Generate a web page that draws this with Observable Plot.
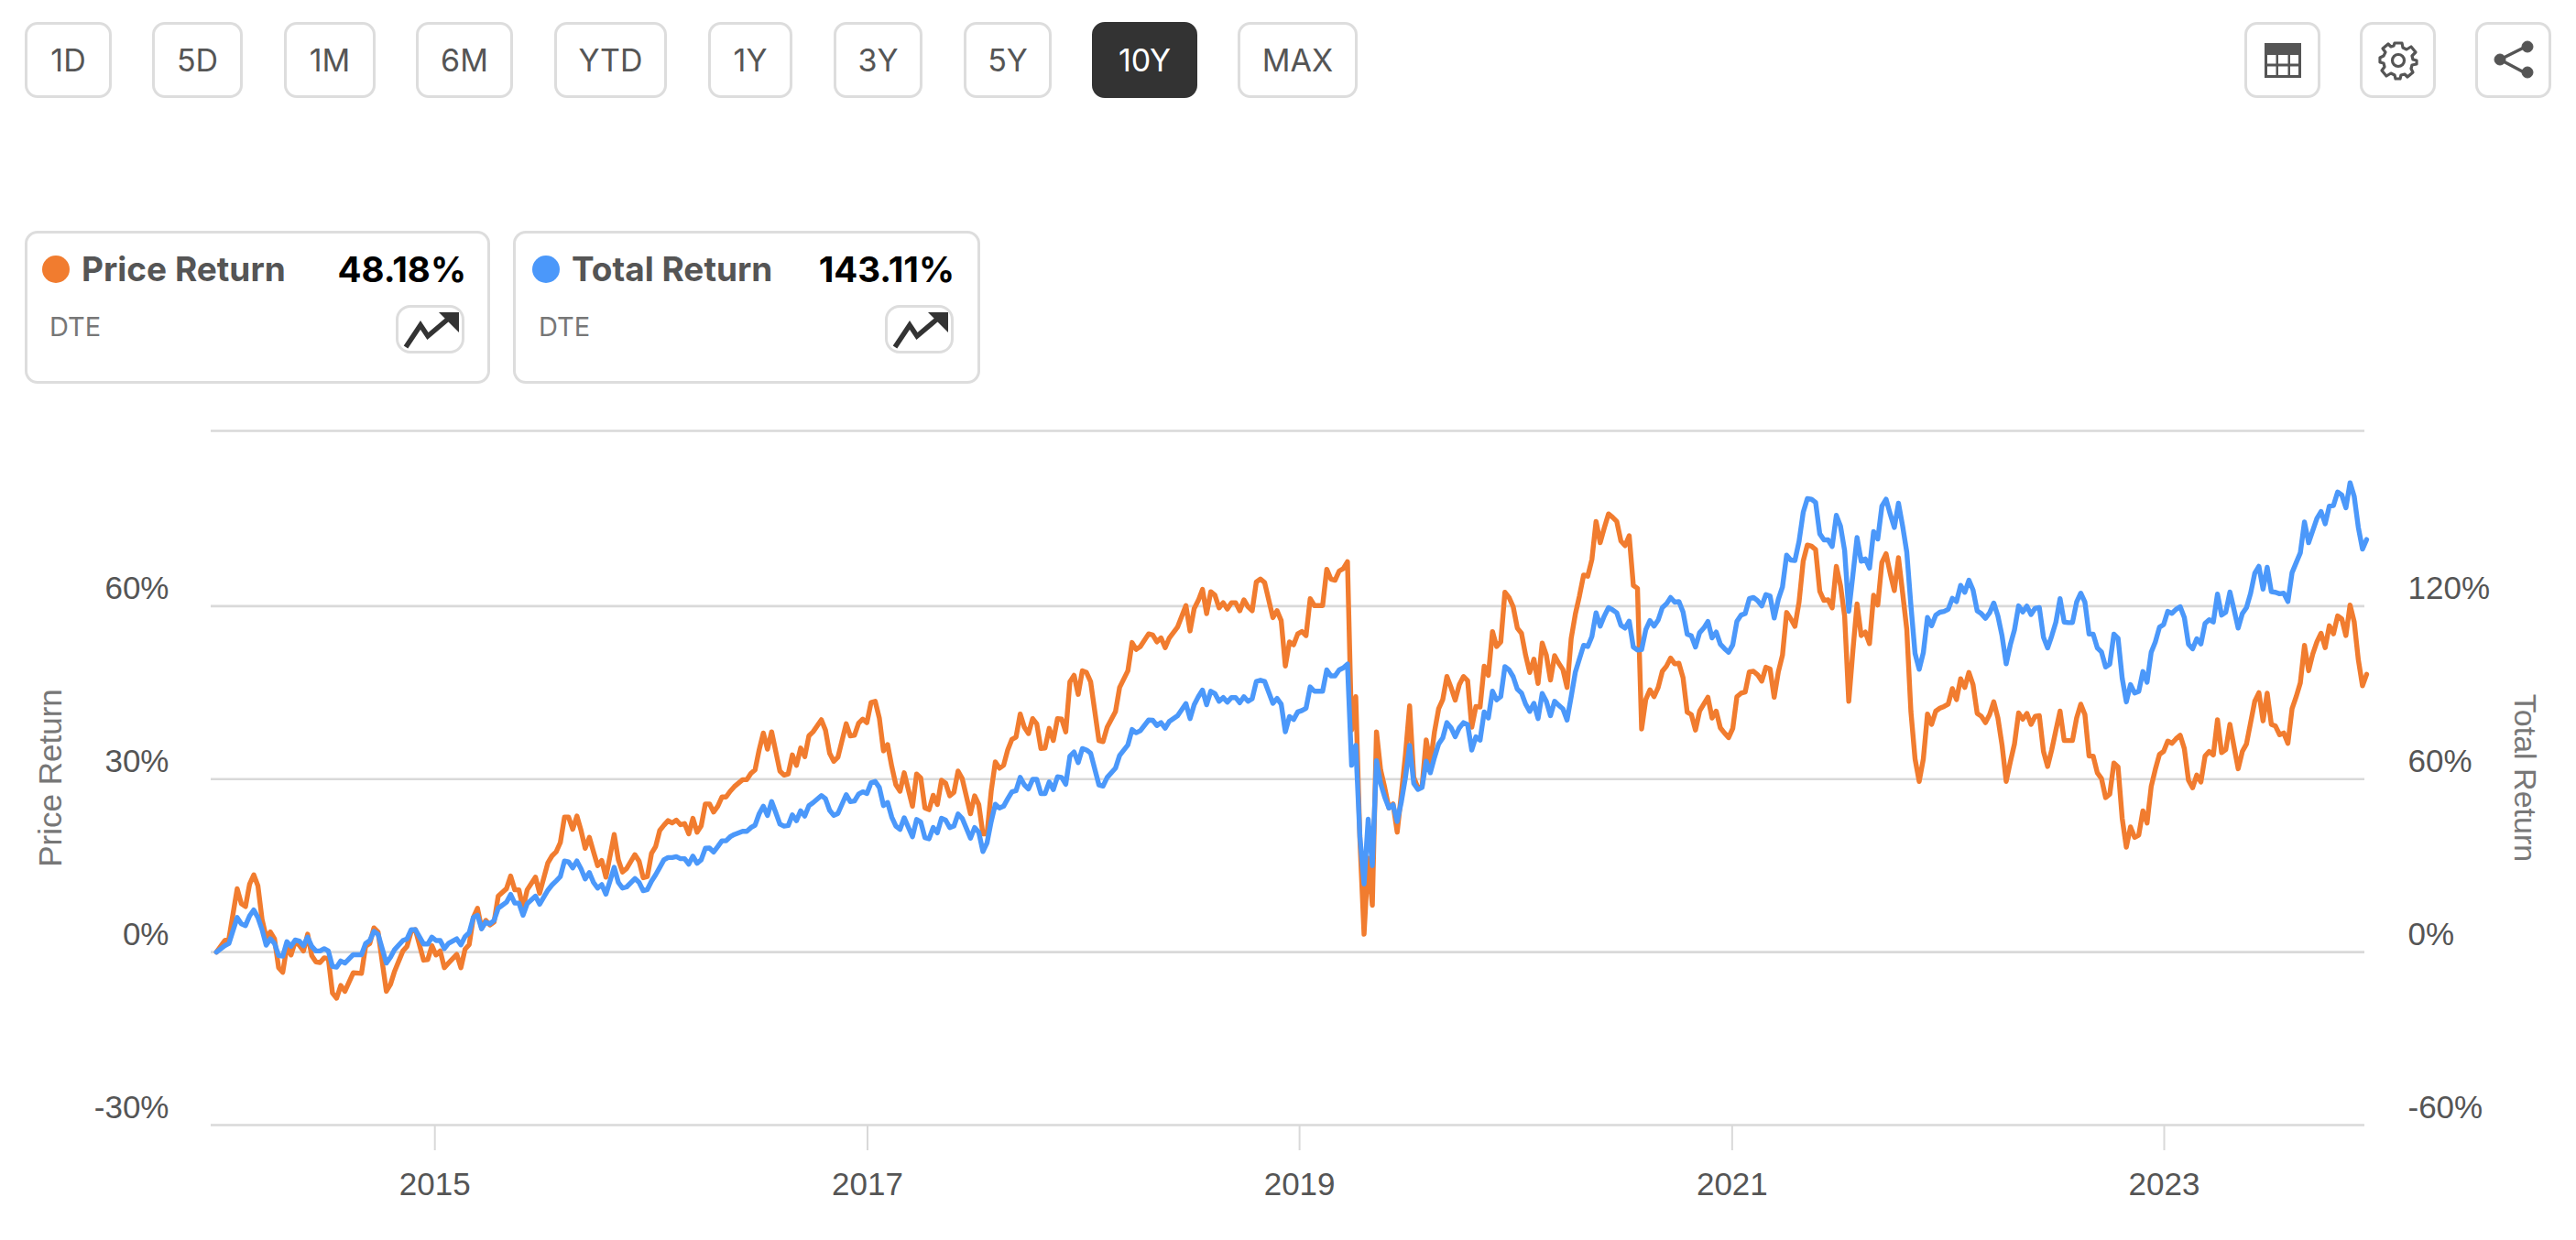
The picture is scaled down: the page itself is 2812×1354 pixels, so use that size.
<!DOCTYPE html>
<html>
<head>
<meta charset="utf-8">
<script src="https://cdn.jsdelivr.net/npm/d3@7"></script>
<script src="https://cdn.jsdelivr.net/npm/@observablehq/plot@0.6"></script>
<style>
html,body{margin:0;padding:0;background:#fff;width:2812px;height:1354px;overflow:hidden;font-family:Inter,sans-serif}
.b{position:absolute;top:24px;height:83px;box-sizing:border-box;border:3px solid #ddd;border-radius:14px;background:#fff;color:#555;font-size:34px;display:flex;align-items:center;justify-content:center}
.b.on{background:#333;border-color:#333;color:#fff}
.card{position:absolute;top:252px;height:167px;width:508px;box-sizing:border-box;border:3px solid #ddd;border-radius:14px}
.a{position:absolute}
.dot{position:absolute;width:30px;height:30px;border-radius:50%;top:279px}
.n{position:absolute;top:272px;height:44px;line-height:44px;font-weight:700;font-size:37px;color:#555;white-space:nowrap}
.v{position:absolute;top:272px;height:44px;line-height:44px;font-weight:700;font-size:38.5px;color:#000;white-space:nowrap}
.t{position:absolute;top:340px;height:34px;line-height:34px;font-size:29px;color:#777}
.m{position:absolute;top:333px;width:75px;height:53px;box-sizing:border-box;border:3px solid #ddd;border-radius:16px}
#chart{position:absolute;left:0;top:440px}
</style>
</head>
<body>
<div id="controls"></div>
<div class="b" style="left:2450px;width:83px"><svg width="40" height="38" viewBox="0 0 40 38"><rect width="40" height="38" fill="#555"/><g fill="#fff"><rect x="3" y="13" width="9.5" height="9.5"/><rect x="15" y="13" width="10.5" height="9.5"/><rect x="28" y="13" width="9" height="9.5"/><rect x="3" y="25.5" width="9.5" height="9.5"/><rect x="15" y="25.5" width="10.5" height="9.5"/><rect x="28" y="25.5" width="9" height="9.5"/></g></svg></div>
<div class="b" style="left:2576px;width:83px"><svg width="44" height="44" viewBox="-22 -22 44 44"><g fill="none" stroke="#555" stroke-width="3.2"><circle r="6.5"/><path id="g" stroke-linejoin="round" d="M-4-19H4L5-14 9-12 14-15 19-9 15-5 16-1 20 0V0 4L15 5 14 9 16 13 10 18 7 15 3 16 2 20H-3L-4 16-8 14-13 17-18 11-15 7-16 3-20 2V-3L-16-5-14-9-17-13-11-18-8-15-5-16Z"/></g></svg></div>
<div class="b" style="left:2702px;width:83px"><svg width="46" height="44" viewBox="0 0 46 44"><g fill="#555" stroke="#555"><path d="M8 21 38 6M8 21 38 37" stroke-width="3.5" fill="none"/><circle cx="8" cy="21" r="6"/><circle cx="38" cy="7" r="6"/><circle cx="38" cy="35" r="6"/></g></svg></div>

<div class="card" style="left:27px"></div>
<div class="card" style="left:560px;width:510px"></div>
<div class="dot" style="left:46px;background:#f17c2f"></div>
<div class="dot" style="left:581px;background:#4b98fa"></div>
<div class="n" style="left:89px">Price Return</div>
<div class="n" style="left:624px">Total Return</div>
<div class="v" style="right:2303px">48.18%</div>
<div class="v" style="right:1770px">143.11%</div>
<div class="t" style="left:54px">DTE</div>
<div class="t" style="left:588px">DTE</div>
<div class="m" style="left:432px"><svg width="69" height="47" viewBox="0 0 69 47"><path d="M8 43 24 19 32 31 58 9" fill="none" stroke="#333" stroke-width="5.5"/><path d="M44 5H66V27Z" fill="#333"/></svg></div>
<div class="m" style="left:966px"><svg width="69" height="47" viewBox="0 0 69 47"><path d="M8 43 24 19 32 31 58 9" fill="none" stroke="#333" stroke-width="5.5"/><path d="M44 5H66V27Z" fill="#333"/></svg></div>
<div id="chart"></div>

<script>
// Range buttons
const rangeLabels = ["1D","5D","1M","6M","YTD","1Y","3Y","5Y","10Y","MAX"];
const rangeActive = "10Y";

// Weeks elapsed since the first observation
const firstDate = "2013-12-28";
const weeks = [
0,2,3,5,6,7,8,9,10,11,
12,13,14,15,16,17,18,19,20,21,
22,23,24,25,26,27,28,29,30,31,
33,35,36,37,38,39,41,42,43,45,
46,47,48,50,51,52,53,54,55,56,
58,59,60,61,62,63,64,65,66,67,
68,70,71,72,73,74,75,77,78,80,
81,82,83,84,85,86,87,88,89,90,
91,92,93,94,96,97,98,99,101,102,
103,104,105,106,107,108,109,110,111,112,
113,114,115,116,117,118,119,120,121,122,
123,124,125,127,128,129,130,131,132,133,
134,135,136,137,138,139,140,141,142,143,
144,146,147,148,149,150,152,153,154,155,
156,157,158,159,160,161,162,163,164,165,
166,168,169,170,171,172,173,174,175,176,
177,178,179,180,182,183,184,185,186,187,
188,189,190,191,192,193,194,195,196,197,
198,199,200,201,202,203,204,205,206,207,
208,209,210,211,213,214,215,217,218,220,
221,222,223,225,226,227,228,229,230,232,
234,235,236,237,238,239,240,241,242,243,
244,245,246,247,248,249,250,251,252,253,
255,256,257,258,259,260,261,262,263,264,
265,267,268,269,270,271,272,273,274,275,
276,277,278,279,280,281,282,283,284,285,
286,287,288,289,290,291,292,293,294,295,
296,297,298,299,300,301,302,303,304,305,
306,307,308,309,310,311,312,313,314,315,
316,317,318,319,320,321,322,323,324,325,
326,327,328,329,330,331,332,333,334,335,
336,337,338,339,340,341,342,343,344,345,
346,347,348,349,350,351,352,353,354,355,
356,357,358,359,360,361,362,363,364,365,
366,367,368,369,370,371,372,373,374,375,
376,377,378,379,380,381,382,383,384,385,
386,387,388,389,390,391,392,393,394,395,
396,397,398,399,400,401,402,403,404,405,
406,407,408,409,410,411,412,413,414,415,
416,417,418,419,420,421,422,423,424,425,
426,427,428,429,430,431,432,433,434,435,
436,437,438,439,440,441,442,443,444,445,
446,447,448,449,450,451,452,453,454,455,
456,457,458,459,460,461,462,463,464,465,
466,467,468,469,470,471,472,473,474,475,
476,477,478,479,480,481,482,483,484,485,
486,487,488,489,490,491,492,493,494,495,
496,497,498,499,500,501,502,503,504,505,
506,507,508,509,510,511,512,513,514,515,
516,517,518,519];

// Price return, percent
const priceReturn = [
0,2.0,2.3,11.0,8.4,7.9,11.8,13.4,11.5,5.7,
2.6,3.5,2.3,-2.7,-3.5,1.0,-0.5,1.8,1.2,0.2,
3.1,-0.6,-1.7,-1.8,-1.0,-1.1,-7.1,-8.0,-5.8,-6.8,
-3.6,-3.7,1.0,1.5,4.2,3.5,-6.8,-5.6,-3.3,0.2,
1.0,3.6,3.9,-1.4,-1.3,1.1,-0.5,0.2,-2.7,-1.9,
-0.4,-2.7,0.5,1.3,6.0,7.6,4.1,5.5,4.7,5.2,
9.7,11.0,13.2,10.8,10.8,7.6,10.8,13.0,10.2,15.5,
16.7,17.4,19.0,23.4,23.4,21.3,23.6,21.1,18.0,19.9,
17.4,15.0,15.9,13.0,20.4,16.0,13.9,14.5,16.9,15.8,
12.9,13.1,17.1,18.3,21.1,22.0,22.8,22.4,22.9,22.1,
22.3,20.5,23.2,20.8,21.9,25.7,25.7,24.3,25.3,26.9,
26.9,27.9,28.7,29.9,29.9,31.0,31.6,35.1,38.0,35.2,
38.2,34.8,31.4,30.7,30.9,34.2,32.4,35.4,33.9,37.5,
38.2,40.3,38.5,34.5,33.1,33.8,39.6,37.5,37.6,39.7,
40.4,39.8,43.3,43.5,40.6,34.9,36.0,32.2,29.0,27.9,
31.1,25.3,30.9,30.2,25.0,24.7,27.2,25.6,29.8,29.3,
27.1,27.7,31.4,30.1,24.0,27.1,25.6,20.5,20.5,27.9,
33.0,31.9,32.4,35.1,36.9,37.3,41.3,39.0,37.9,40.5,
39.6,35.3,35.4,38.8,36.7,40.5,40.4,38.2,46.9,48.0,
44.7,48.8,48.5,46.9,36.7,36.5,39.0,41.7,45.9,48.8,
53.7,52.5,53.0,55.2,55.0,53.8,54.5,52.8,54.5,56.4,
60.1,55.7,59.6,61.0,62.9,58.7,62.5,61.9,59.7,60.6,
59.5,60.6,60.6,59.2,61.1,59.9,59.2,64.2,64.7,64.1,
58.0,59.2,57.5,49.6,53.8,53.3,55.2,55.6,54.9,61.3,
60.1,60.1,66.4,64.7,64.5,66.1,66.5,67.7,38.5,44.3,
19.5,3.1,16.3,8.1,38.2,31.6,28.5,25.0,25.7,20.8,
27.4,34.3,42.7,30.3,28.5,28.7,36.8,32.7,38.2,42.2,
43.8,47.8,45.9,43.7,46.4,47.8,47.1,39.0,42.6,42.5,
49.6,48.0,55.6,53.0,53.8,62.4,61.5,59.9,56.2,55.3,
51.5,48.5,50.8,46.6,53.6,51.5,47.2,51.4,50.1,49.0,
45.9,54.4,58.6,61.8,65.4,65.2,68.1,74.7,71.0,73.6,
76.0,75.4,74.7,71.3,70.5,72.2,63.6,63.1,38.7,43.8,
45.5,44.3,45.9,48.7,49.6,51.0,50.0,50.1,47.6,41.6,
41.2,38.5,41.8,43.0,44.2,40.6,41.8,38.9,38.0,37.2,
38.8,44.3,44.9,45.1,48.6,48.7,48.1,47.0,49.4,49.1,
44.2,48.6,51.5,58.9,57.8,56.5,60.7,67.8,70.6,70.4,
69.8,62.6,61.0,61.1,59.7,66.9,63.6,58.3,43.5,52.3,
60.4,54.9,55.5,53.5,61.9,60.2,67.6,69.1,65.7,62.7,
68.4,62.3,56.0,41.7,33.5,29.6,33.5,41.3,39.5,41.8,
42.3,42.6,43.0,45.7,43.8,47.4,45.9,48.5,46.4,41.4,
40.9,39.8,41.2,43.4,40.6,35.9,29.6,33.0,36.1,41.5,
40.4,41.4,39.5,40.9,41.0,34.8,32.2,35.1,38.5,41.8,
36.7,36.7,36.7,40.6,43.0,41.2,34.0,34.0,31.1,30.1,
26.8,27.4,32.8,32.1,23.2,18.2,21.7,19.9,20.3,24.5,
22.4,28.7,31.7,34.3,34.8,36.6,36.2,37.0,37.6,35.3,
29.8,28.5,30.7,29.5,34.0,34.8,34.2,40.3,34.6,35.1,
39.5,35.6,31.8,34.8,36.1,39.8,43.5,45.0,40.1,44.9,
39.5,39.2,37.7,38.0,36.2,42.2,44.3,46.7,53.2,48.8,
51.7,53.8,55.3,52.8,56.6,55.2,58.3,57.8,54.9,60.2,
57.3,50.7,46.2,48.18];

// Total return, percent (right axis)
const totalReturn = [
0,2.2,3.0,12.0,9.8,9.2,12.6,14.6,12.0,7.8,
2.4,4.6,3.0,-1.2,-1.4,3.6,2.0,4.2,3.8,2.2,
5.2,2.0,0.4,0.4,1.2,0.4,-5.0,-5.2,-3.1,-3.8,
-0.9,-0.9,3.0,4.0,7.2,6.2,-3.8,-1.8,0.9,4.0,
4.6,7.8,7.8,2.8,2.8,5.2,4.0,4.0,1.2,3.0,
4.6,2.5,5.4,6.7,12.0,12.8,8.1,10.4,9.8,11.0,
15.2,17.3,20.0,17.0,17.0,12.8,16.8,19.4,16.6,21.5,
23.3,24.7,26.2,31.6,31.3,29.2,31.6,28.9,25.4,27.6,
24.2,22.2,23.4,20.1,29.4,24.2,22.2,22.6,25.5,24.2,
21.3,21.7,24.6,26.8,29.4,32.0,32.8,32.8,33.1,32.4,
32.4,30.5,33.3,30.8,32.0,36.0,36.1,34.7,36.6,38.6,
38.6,40.0,40.8,41.9,41.9,43.2,44.0,48.0,50.6,47.4,
52.2,48.4,44.4,43.7,43.9,47.6,45.6,49.0,47.2,50.8,
51.8,54.3,53.2,49.2,47.4,48.1,54.6,52.2,52.4,54.8,
55.6,55.0,58.7,59.2,57.1,50.8,51.9,46.8,43.7,42.6,
46.6,40.0,46.0,45.1,39.7,39.3,43.2,41.4,46.4,45.8,
43.2,43.7,47.9,46.4,39.5,43.2,41.6,34.9,37.9,45.3,
51.3,50.0,50.6,53.2,55.6,56.0,60.6,58.0,56.6,59.9,
59.9,55.0,55.0,59.0,56.4,60.8,60.6,58.2,68.0,69.4,
65.7,70.6,70.1,69.0,58.0,57.6,60.6,63.8,68.2,71.9,
77.2,76.1,76.8,80.5,80.4,78.6,79.6,77.7,80.0,82.0,
86.2,81.0,85.8,88.6,90.9,85.8,90.5,89.7,87.0,88.3,
86.7,88.3,88.3,86.5,88.6,87.0,87.9,93.9,94.3,93.9,
86.3,88.0,86.0,76.4,81.7,80.7,83.3,83.8,84.6,92.0,
90.5,90.5,97.9,95.8,95.8,97.9,98.6,99.9,64.8,71.7,
40.0,23.6,46.1,30.0,66.4,58.5,53.7,50.0,51.1,45.3,
52.1,60.6,71.7,58.5,56.4,57.1,66.2,62.2,67.5,72.2,
74.3,79.6,77.8,74.7,77.8,79.6,78.9,70.1,74.7,73.5,
83.3,81.2,90.5,87.5,88.6,99.0,97.9,95.5,91.2,89.9,
86.0,83.5,86.3,81.0,89.7,87.0,82.0,87.0,85.6,84.4,
80.5,88.6,97.1,101.8,106.4,106.0,109.5,117.7,113.1,116.6,
119.5,118.7,117.7,113.4,112.4,114.8,105.8,104.8,104.9,111.8,
115.0,113.1,115.2,119.5,120.8,123.0,121.4,121.6,118.0,110.3,
109.7,105.8,110.8,112.4,114.7,109.0,111.0,106.8,105.3,104.0,
106.6,114.7,116.9,117.4,122.6,123.0,121.9,120.1,124.0,123.5,
115.9,122.4,126.7,137.7,136.0,135.8,142.5,152.5,157.3,157.1,
156.0,145.1,143.0,143.0,140.7,151.5,147.8,139.3,118.2,130.9,
143.8,135.6,136.4,133.2,145.9,143.3,154.7,157.1,152.0,147.3,
155.7,147.8,138.8,120.3,103.6,98.1,103.9,116.1,113.2,116.9,
117.9,118.2,118.9,122.7,121.6,127.2,124.8,129.0,125.6,118.4,
117.4,115.8,117.7,121.1,116.6,109.7,100.0,106.6,111.8,120.1,
118.0,120.0,117.1,119.3,119.5,109.2,105.5,109.7,114.5,122.6,
114.5,114.3,114.3,121.4,124.5,121.4,110.3,110.3,105.5,104.1,
98.9,99.9,110.3,108.9,95.0,86.8,92.8,89.9,90.4,97.3,
93.6,104.0,107.6,112.7,113.6,118.2,117.5,118.9,119.8,116.1,
106.8,105.2,108.7,106.9,114.0,115.3,114.5,124.2,116.9,117.9,
124.9,118.7,112.4,117.4,119.5,124.5,131.4,133.8,125.9,133.5,
125.0,124.8,124.3,124.5,121.6,131.6,135.1,138.5,149.2,142.0,
146.2,150.4,152.8,148.6,154.7,154.9,159.6,158.6,154.1,162.8,
158.1,147.3,139.8,143.11];

const yearTicks = [2015,2017,2019,2021,2023];
const priceTicks = [-30,0,30,60];
const gridTop = 90.4;

// buttons
const btnBox = [[27,95],[166,99],[310,100],[454,106],[605,123],[773,92],[910,97],[1052,96],[1192,115],[1351,131]];
const ctl = document.getElementById("controls");
rangeLabels.forEach((t,i)=>{
  const d = document.createElement("div");
  d.className = "b" + (t===rangeActive?" on":"");
  d.style.left = btnBox[i][0]+"px";
  d.style.width = btnBox[i][1]+"px";
  d.textContent = t;
  ctl.appendChild(d);
});

const t0 = new Date(firstDate+"T00:00:00Z");
const rows = weeks.map((w,i)=>({
  date: d3.utcDay.offset(t0, w*7),
  price: priceReturn[i],
  total: totalReturn[i]
}));

const axisFont = {fontSize:35, fill:"#555"};
const chart = Plot.plot({
  width:2812, height:914,
  marginLeft:230, marginRight:231, marginTop:30, marginBottom:126,
  style:{fontFamily:"'Liberation Sans',sans-serif",background:"transparent",overflow:"visible"},
  x:{type:"utc",domain:[new Date("2013-12-19T00:00:00Z"),new Date("2023-12-06T00:00:00Z")]},
  y:{domain:[-30,gridTop]},
  marks:[
    Plot.ruleY([...priceTicks,gridTop],{stroke:"#d9d9d9",strokeWidth:2.6}),
    Plot.axisX({ticks:yearTicks.map(y=>new Date(Date.UTC(y,0,1))),tickFormat:d=>String(d.getUTCFullYear()),tickSize:28,tickPadding:24,stroke:"#d9d9d9",strokeWidth:2,label:null,...axisFont}),
    Plot.axisY({anchor:"left",ticks:priceTicks,tickSize:0,tickPadding:46,dy:-19,tickFormat:d=>d+"%",label:null,...axisFont}),
    Plot.axisY({anchor:"right",ticks:priceTicks,tickSize:0,tickPadding:47,dy:-19,tickFormat:d=>(d*2)+"%",label:null,...axisFont}),
    Plot.text(["Price Return"],{frameAnchor:"left",textAnchor:"middle",rotate:-90,dx:-175,fontSize:35,fill:"#777"}),
    Plot.text(["Total Return"],{frameAnchor:"right",textAnchor:"middle",rotate:90,dx:174,fontSize:34,fill:"#777"}),
    Plot.line(rows,{x:"date",y:"price",stroke:"#f17c2f",strokeWidth:5.4,curve:"linear"}),
    Plot.line(rows,{x:"date",y:d=>d.total/2,stroke:"#4b98fa",strokeWidth:5.4,curve:"linear"})
  ]
});
document.getElementById("chart").appendChild(chart);
</script>
</body>
</html>
